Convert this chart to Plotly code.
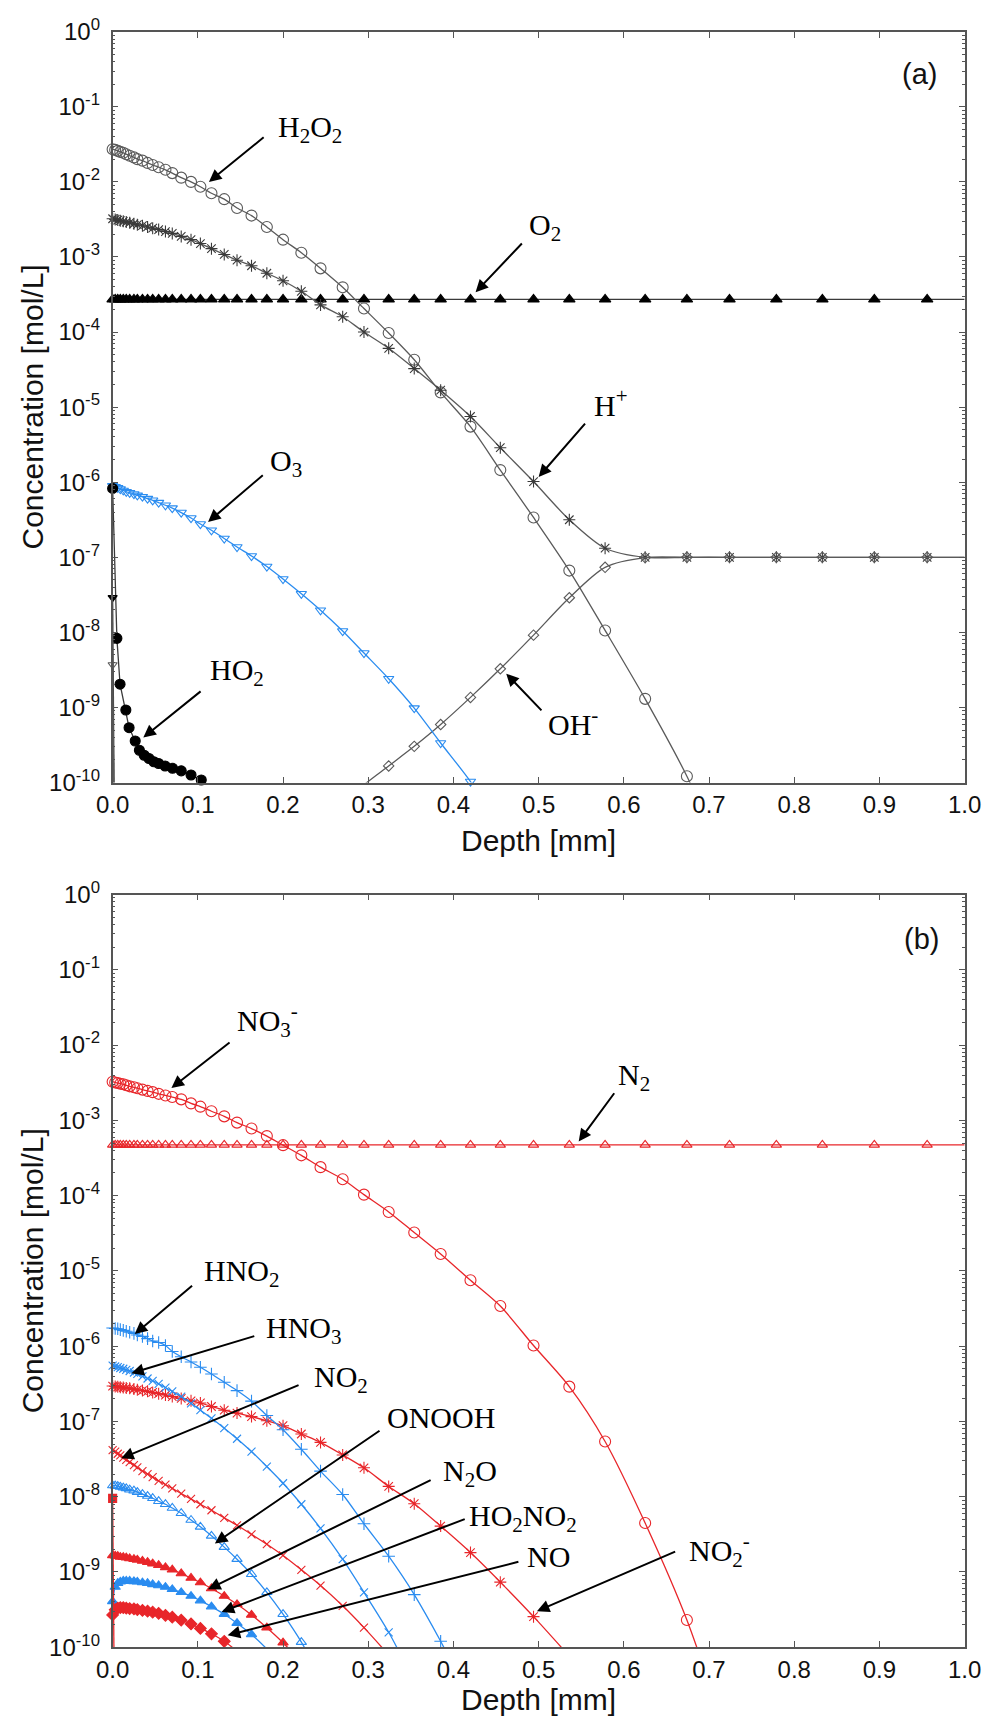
import plotly.graph_objects as go

# ---------------- data ----------------
# depth nodes (mm) at which markers are drawn (last node = end of domain)
depth = [0.000, 0.003, 0.006, 0.009, 0.0125, 0.016, 0.020, 0.025, 0.029, 0.035,
         0.041, 0.047, 0.054, 0.062, 0.070, 0.0805, 0.092, 0.103, 0.116, 0.131,
         0.146, 0.163, 0.181, 0.200, 0.2215, 0.244, 0.270, 0.295, 0.324, 0.354,
         0.385, 0.420, 0.455, 0.494, 0.536, 0.578, 0.625, 0.674, 0.724, 0.779,
         0.833, 0.894, 0.956, 1.000]

# ---- panel (a) ----
h2o2 = [2.72e-2, 2.67e-2, 2.59e-2, 2.51e-2, 2.44e-2, 2.34e-2, 2.23e-2, 2.12e-2, 2.01e-2, 1.92e-2,
        1.79e-2, 1.68e-2, 1.57e-2, 1.45e-2, 1.31e-2, 1.14e-2, 1.00e-2, 8.61e-3, 7.05e-3, 5.89e-3,
        4.49e-3, 3.56e-3, 2.51e-3, 1.70e-3, 1.14e-3, 7.05e-4, 3.94e-4, 2.06e-4, 9.70e-5, 4.27e-5,
        1.57e-5, 5.50e-6, 1.45e-6, 3.39e-7, 6.65e-8, 1.06e-8, 1.30e-9, 1.21e-10, 6.3e-12]
h_plus = [3.23e-3, 3.16e-3, 3.10e-3, 3.04e-3, 2.98e-3, 2.92e-3, 2.86e-3, 2.77e-3, 2.69e-3, 2.61e-3,
          2.51e-3, 2.42e-3, 2.32e-3, 2.18e-3, 2.06e-3, 1.88e-3, 1.70e-3, 1.51e-3, 1.29e-3, 1.08e-3,
          9.06e-4, 7.64e-4, 6.07e-4, 4.82e-4, 3.49e-4, 2.30e-4, 1.60e-4, 1.00e-4, 6.07e-5, 3.26e-5,
          1.68e-5, 7.50e-6, 2.88e-6, 1.02e-6, 3.16e-7, 1.32e-7, 1.00e-7, 1.00e-7, 1.00e-7, 1.00e-7,
          1.00e-7, 1.00e-7, 1.00e-7, 1.00e-7]
oh_minus_start = 26  # first depth node of the OH- series
oh_minus = [5.0e-11, 9.3e-11, 1.66e-10, 3.03e-10, 5.92e-10, 1.36e-9, 3.27e-9, 9.18e-9, 2.89e-8, 7.35e-8,
            9.9e-8, 1.0e-7, 1.0e-7, 1.0e-7, 1.0e-7, 1.0e-7, 1.0e-7, 1.0e-7]
o2 = [2.72e-4] * 44
o3 = [8.95e-7, 8.69e-7, 8.41e-7, 8.09e-7, 7.76e-7, 7.46e-7, 7.24e-7, 6.95e-7, 6.68e-7, 6.41e-7,
      6.04e-7, 5.74e-7, 5.35e-7, 4.93e-7, 4.51e-7, 3.94e-7, 3.33e-7, 2.77e-7, 2.29e-7, 1.78e-7,
      1.37e-7, 1.04e-7, 7.53e-8, 5.14e-8, 3.26e-8, 1.97e-8, 1.04e-8, 5.30e-9, 2.41e-9, 9.80e-10,
      3.36e-10, 1.03e-10, 2.5e-11]
ho2_depth = [0.0, 0.005, 0.0087, 0.0155, 0.0193, 0.0265, 0.0314, 0.037, 0.0427, 0.0484,
             0.054, 0.0616, 0.0703, 0.0805, 0.092, 0.104, 0.116]
ho2 = [8.26e-7, 8.32e-9, 2.04e-9, 9.23e-10, 5.37e-10, 3.57e-10, 2.69e-10, 2.31e-10, 2.09e-10, 1.89e-10,
       1.79e-10, 1.66e-10, 1.55e-10, 1.43e-10, 1.26e-10, 1.08e-10, 7.9e-11]
surf_a1 = [2.9e-8, 1.0e-12]   # unlabelled species, filled down-triangle
surf_a2 = [3.7e-9, 1.0e-12]   # unlabelled species, open down-triangle

# ---- panel (b) ----
no3_minus = [3.26e-3, 3.19e-3, 3.13e-3, 3.07e-3, 3.01e-3, 2.92e-3, 2.83e-3, 2.75e-3, 2.67e-3, 2.56e-3,
             2.46e-3, 2.37e-3, 2.25e-3, 2.14e-3, 2.04e-3, 1.90e-3, 1.68e-3, 1.52e-3, 1.32e-3, 1.13e-3,
             9.33e-4, 7.78e-4, 6.18e-4, 4.68e-4, 3.43e-4, 2.39e-4, 1.65e-4, 1.03e-4, 6.07e-5, 3.23e-5,
             1.68e-5, 7.50e-6, 3.41e-6, 1.02e-6, 2.90e-7, 5.42e-8, 4.47e-9, 2.30e-10, 5.0e-12]
n2 = [4.72e-4] * 44
hno2 = [1.74e-6, 1.72e-6, 1.70e-6, 1.66e-6, 1.62e-6, 1.58e-6, 1.53e-6, 1.48e-6, 1.41e-6, 1.35e-6,
        1.26e-6, 1.17e-6, 1.12e-6, 1.02e-6, 8.51e-7, 7.24e-7, 6.17e-7, 5.25e-7, 4.27e-7, 3.31e-7,
        2.57e-7, 1.86e-7, 1.20e-7, 7.76e-8, 4.27e-8, 2.19e-8, 1.07e-8, 4.37e-9, 1.62e-9, 5.01e-10,
        1.20e-10, 2.0e-11]
hno3 = [5.50e-7, 5.37e-7, 5.25e-7, 5.13e-7, 5.01e-7, 4.84e-7, 4.68e-7, 4.47e-7, 4.27e-7, 3.98e-7,
        3.72e-7, 3.47e-7, 3.16e-7, 2.82e-7, 2.51e-7, 2.14e-7, 1.74e-7, 1.41e-7, 1.10e-7, 8.13e-8,
        5.89e-8, 3.98e-8, 2.51e-8, 1.51e-8, 7.94e-9, 3.80e-9, 1.48e-9, 5.37e-10, 1.58e-10, 3.5e-11]
no2_minus = [2.95e-7, 2.92e-7, 2.88e-7, 2.85e-7, 2.82e-7, 2.79e-7, 2.75e-7, 2.69e-7, 2.63e-7, 2.57e-7,
             2.51e-7, 2.43e-7, 2.34e-7, 2.24e-7, 2.14e-7, 2.02e-7, 1.88e-7, 1.76e-7, 1.58e-7, 1.41e-7,
             1.29e-7, 1.16e-7, 1.02e-7, 8.77e-8, 6.81e-8, 5.27e-8, 3.59e-8, 2.42e-8, 1.37e-8, 8.07e-9,
             4.07e-9, 1.81e-9, 7.33e-10, 2.55e-10, 7.6e-11]
no2 = [4.17e-8, 3.98e-8, 3.72e-8, 3.55e-8, 3.31e-8, 3.09e-8, 2.88e-8, 2.63e-8, 2.45e-8, 2.19e-8,
       2.00e-8, 1.82e-8, 1.62e-8, 1.45e-8, 1.29e-8, 1.10e-8, 9.33e-9, 7.94e-9, 6.61e-9, 5.25e-9,
       4.17e-9, 3.16e-9, 2.34e-9, 1.66e-9, 1.07e-9, 6.61e-10, 3.55e-10, 1.82e-10, 7.9e-11]
onooh = [1.41e-8, 1.40e-8, 1.38e-8, 1.35e-8, 1.32e-8, 1.29e-8, 1.24e-8, 1.20e-8, 1.15e-8, 1.08e-8,
         1.02e-8, 9.55e-9, 8.71e-9, 7.94e-9, 7.08e-9, 6.03e-9, 4.90e-9, 3.98e-9, 3.02e-9, 2.14e-9,
         1.48e-9, 9.33e-10, 5.37e-10, 2.75e-10, 1.17e-10, 4.0e-11]
n2o = [1.66e-9, 1.64e-9, 1.62e-9, 1.58e-9, 1.57e-9, 1.55e-9, 1.51e-9, 1.48e-9, 1.45e-9, 1.40e-9,
       1.35e-9, 1.29e-9, 1.23e-9, 1.15e-9, 1.07e-9, 9.55e-10, 8.32e-10, 7.24e-10, 6.03e-10, 4.79e-10,
       3.72e-10, 2.69e-10, 1.82e-10, 1.15e-10, 6.3e-11]
ho2no2 = [4.07e-10, 6.31e-10, 7.08e-10, 7.41e-10, 7.59e-10, 7.59e-10, 7.59e-10, 7.50e-10, 7.41e-10, 7.24e-10,
          7.08e-10, 6.84e-10, 6.61e-10, 6.31e-10, 5.89e-10, 5.37e-10, 4.79e-10, 4.17e-10, 3.47e-10, 2.75e-10,
          2.09e-10, 1.48e-10, 9.5e-11, 5.6e-11]
no = [2.69e-10, 3.16e-10, 3.31e-10, 3.35e-10, 3.35e-10, 3.31e-10, 3.27e-10, 3.24e-10, 3.16e-10, 3.09e-10,
      3.02e-10, 2.92e-10, 2.82e-10, 2.66e-10, 2.51e-10, 2.29e-10, 2.04e-10, 1.78e-10, 1.51e-10, 1.20e-10,
      8.9e-11, 6.3e-11]
surf_b1 = [9.5e-9, 1.0e-12]   # unlabelled species, filled square

x_ticks = [0.0, 0.1, 0.2, 0.3, 0.4, 0.5, 0.6, 0.7, 0.8, 0.9, 1.0]
y_exponents = [0, -1, -2, -3, -4, -5, -6, -7, -8, -9, -10]

# ---------------- styling ----------------
BLUE = "#2a8cf0"
RED = "#e8262a"
DARK = "#3a3a3a"
GRAYL = "#5a5a5a"
YMIN = 1e-10

fig = go.Figure()


def add_series(xs, ys, panel, line_color, symbol, msize, mcolor, mline, shape="spline"):
    xa = "x" if panel == "a" else "x2"
    ya = "y" if panel == "a" else "y2"
    fig.add_trace(go.Scatter(
        x=xs, y=ys, mode="lines", xaxis=xa, yaxis=ya,
        line=dict(color=line_color, width=1.3, shape=shape, smoothing=0.8),
        hoverinfo="skip", showlegend=False))
    mx = [x for x, y in zip(xs, ys) if y >= YMIN * 0.95 and x < 1.0]
    my = [y for x, y in zip(xs, ys) if y >= YMIN * 0.95 and x < 1.0]
    fig.add_trace(go.Scatter(
        x=mx, y=my, mode="markers", xaxis=xa, yaxis=ya, cliponaxis=False,
        marker=dict(symbol=symbol, size=msize, color=mcolor,
                    line=dict(color=mline, width=1.1)),
        showlegend=False))


def nodes(vals, start=0):
    return depth[start:start + len(vals)]


# panel (a)
add_series(nodes(o2), o2, "a", DARK, "triangle-up", 10, "black", "black")
add_series(nodes(h2o2), h2o2, "a", GRAYL, "circle-open", 11, GRAYL, GRAYL)
add_series(nodes(h_plus), h_plus, "a", GRAYL, "asterisk-open", 10, DARK, DARK)
add_series(nodes(oh_minus, oh_minus_start), oh_minus, "a", GRAYL, "diamond-open", 8, GRAYL, GRAYL)
add_series(nodes(o3), o3, "a", BLUE, "triangle-down-open", 9, BLUE, BLUE)
add_series(ho2_depth, ho2, "a", DARK, "circle", 10, "black", "black", shape="linear")
add_series(nodes(surf_a1), surf_a1, "a", DARK, "triangle-down", 8, "black", "black", shape="linear")
add_series(nodes(surf_a2), surf_a2, "a", GRAYL, "triangle-down-open", 8, GRAYL, GRAYL, shape="linear")

# panel (b)
add_series(nodes(n2), n2, "b", RED, "triangle-up-open", 9, RED, RED)
add_series(nodes(no3_minus), no3_minus, "b", RED, "circle-open", 11, RED, RED)
add_series(nodes(no2_minus), no2_minus, "b", RED, "asterisk-open", 10, RED, RED)
add_series(nodes(hno2), hno2, "b", BLUE, "cross-thin-open", 9, BLUE, BLUE)
add_series(nodes(hno3), hno3, "b", BLUE, "x-thin-open", 8, BLUE, BLUE)
add_series(nodes(no2), no2, "b", RED, "x-thin-open", 8, RED, RED)
add_series(nodes(onooh), onooh, "b", BLUE, "triangle-up-open", 9, BLUE, BLUE)
add_series(nodes(n2o), n2o, "b", RED, "triangle-up", 9, RED, RED)
add_series(nodes(ho2no2), ho2no2, "b", BLUE, "triangle-up", 9, BLUE, BLUE)
add_series(nodes(no), no, "b", RED, "diamond", 9, RED, RED)
add_series(nodes(surf_b1), surf_b1, "b", RED, "square", 8, RED, RED, shape="linear")

# ---------------- axes ----------------
AX = "#555555"
FONT = "Liberation Sans, Arial, sans-serif"
SERIF = "Liberation Serif, Times New Roman, serif"

y_vals = [10.0 ** e for e in y_exponents]
y_text = ["10<sup>%d</sup>" % e for e in y_exponents]
minor_vals = [k * 10.0 ** e for e in range(-10, 0) for k in range(2, 10)]

xcommon = dict(range=[0, 1], tickvals=x_ticks, ticktext=["%.1f" % v for v in x_ticks],
               ticks="inside", ticklen=6, tickwidth=1.3, tickcolor=AX,
               showline=True, linecolor=AX, linewidth=1.6, mirror="ticks",
               showgrid=False, zeroline=False,
               tickfont=dict(family=FONT, size=24, color="#111"))
ycommon = dict(type="log", range=[-10, 0], tickvals=y_vals, ticktext=y_text,
               ticks="inside", ticklen=6, tickwidth=1.3, tickcolor=AX,
               showline=True, linecolor=AX, linewidth=1.6, mirror="ticks",
               showgrid=False, zeroline=False, ticklabelstandoff=6,
               minor=dict(tickvals=minor_vals, ticks="inside", ticklen=3, tickwidth=1, tickcolor=AX,
                          showgrid=False),
               tickfont=dict(family=FONT, size=24, color="#111"))

fig.update_layout(
    width=1000, height=1731, margin=dict(l=0, r=0, t=0, b=0),
    paper_bgcolor="white", plot_bgcolor="white", showlegend=False,
    xaxis=dict(domain=[0.099, 0.981], anchor="y", **xcommon),
    yaxis=dict(domain=[0.54997, 0.99133], anchor="x", **ycommon),
    xaxis2=dict(domain=[0.099, 0.981], anchor="y2", **xcommon),
    yaxis2=dict(domain=[0.04159, 0.48411], anchor="x2", **ycommon),
)

# ---------------- annotations ----------------
ann = []
# axis titles
for yc in (0.7707, 0.26285):
    ann.append(dict(text="Concentration [mol/L]", xref="paper", yref="paper", x=0.016, y=yc,
                    textangle=-90, showarrow=False, xanchor="center", yanchor="middle",
                    font=dict(family=FONT, size=30, color="#111")))
for yc in (0.5159, 0.011):
    ann.append(dict(text="Depth [mm]", xref="paper", yref="paper", x=0.54, y=yc,
                    showarrow=False, xanchor="center", yanchor="middle",
                    font=dict(family=FONT, size=30, color="#111")))

# panel tags
ann.append(dict(text="(a)", xref="x", yref="y", x=0.947, y=-0.56, showarrow=False,
                font=dict(family=FONT, size=29, color="#111")))
ann.append(dict(text="(b)", xref="x2", yref="y2", x=0.949, y=-0.59, showarrow=False,
                font=dict(family=FONT, size=29, color="#111")))

# species labels: (text, panel, text x, text log-y, tail x, tail log-y, tip x, tip log-y)
labels = [
    ("H<sub>2</sub>O<sub>2</sub>", "a", 0.232, -1.30, 0.179, -1.39, 0.113, -2.00),
    ("O<sub>2</sub>", "a", 0.508, -2.60, 0.482, -2.80, 0.426, -3.47),
    ("H<sup>+</sup>", "a", 0.585, -4.95, 0.556, -5.20, 0.500, -5.93),
    ("OH<sup>-</sup>", "a", 0.540, -9.20, 0.505, -9.06, 0.462, -8.55),
    ("O<sub>3</sub>", "a", 0.203, -5.74, 0.178, -5.89, 0.112, -6.53),
    ("HO<sub>2</sub>", "a", 0.146, -8.53, 0.105, -8.77, 0.036, -9.40),
    ("NO<sub>3</sub><sup>-</sup>", "b", 0.182, -1.68, 0.139, -1.95, 0.069, -2.57),
    ("N<sub>2</sub>", "b", 0.612, -2.43, 0.590, -2.62, 0.547, -3.28),
    ("HNO<sub>2</sub>", "b", 0.152, -5.03, 0.095, -5.18, 0.026, -5.84),
    ("HNO<sub>3</sub>", "b", 0.225, -5.79, 0.168, -5.86, 0.022, -6.36),
    ("NO<sub>2</sub>", "b", 0.268, -6.43, 0.220, -6.51, 0.010, -7.49),
    ("ONOOH", "b", 0.385, -6.95, 0.315, -7.11, 0.120, -8.62),
    ("N<sub>2</sub>O", "b", 0.420, -7.68, 0.375, -7.77, 0.112, -9.23),
    ("HO<sub>2</sub>NO<sub>2</sub>", "b", 0.482, -8.28, 0.415, -8.29, 0.128, -9.53),
    ("NO", "b", 0.512, -8.80, 0.478, -8.86, 0.135, -9.84),
    ("NO<sub>2</sub><sup>-</sup>", "b", 0.712, -8.72, 0.662, -8.72, 0.498, -9.52),
]
for txt, panel, tx, ty, ax_, ay_, px, py in labels:
    xr = "x" if panel == "a" else "x2"
    yr = "y" if panel == "a" else "y2"
    ann.append(dict(text="", xref=xr, yref=yr, x=px, y=py, ax=ax_, ay=ay_, axref=xr, ayref=yr,
                    showarrow=True, arrowhead=2, arrowsize=1.25, arrowwidth=2, arrowcolor="black",
                    standoff=0, startstandoff=0))
    ann.append(dict(text=txt, xref=xr, yref=yr, x=tx, y=ty, showarrow=False,
                    xanchor="center", yanchor="middle",
                    font=dict(family=SERIF, size=30, color="black")))

fig.update_layout(annotations=ann)
fig.write_html("out.html")
